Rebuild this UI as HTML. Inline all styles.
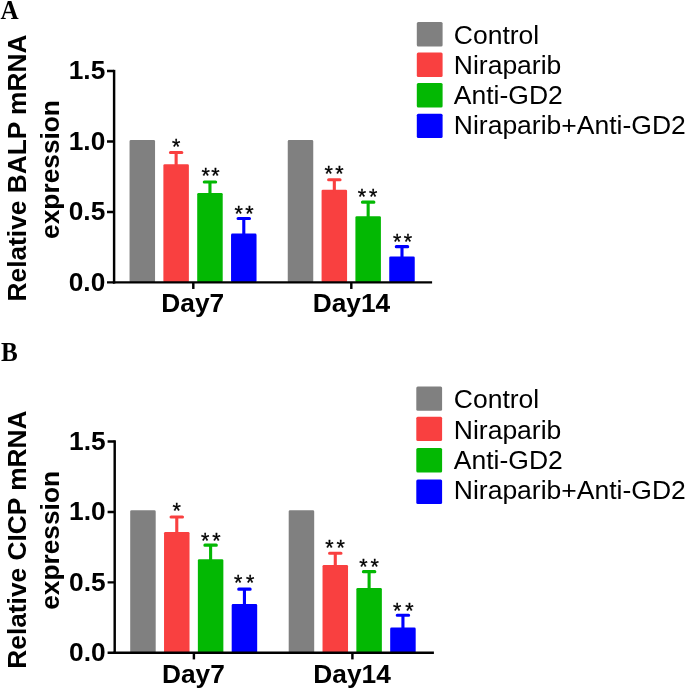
<!DOCTYPE html>
<html><head><meta charset="utf-8"><title>Figure</title>
<style>
html,body{margin:0;padding:0;background:#fff;}
svg{display:block}
.b{font-family:"Liberation Sans",Arial,sans-serif;font-weight:700;font-size:26.3px;fill:#000}
.r{font-family:"Liberation Sans",Arial,sans-serif;font-weight:400;font-size:26.5px;fill:#000}
.L{font-family:"Liberation Serif","Times New Roman",serif;font-weight:700;font-size:27px;fill:#000}
.st{font-family:"Liberation Sans",Arial,sans-serif;font-weight:400;font-size:21.5px;fill:#000;stroke:#000;stroke-width:0.3px}
</style></head><body>
<svg width="685" height="690" viewBox="0 0 685 690">
<rect width="685" height="690" fill="#fff"/>
<rect x="129.55" y="140.10" width="25.5" height="142.25" rx="1.3" fill="#808080"/>
<rect x="163.38" y="164.30" width="25.5" height="118.05" rx="1.3" fill="#F94040"/>
<path d="M176.13 165.30V152.45M170.43 152.45H181.83" stroke="#F94040" stroke-width="3.1" stroke-linecap="round" fill="none"/>
<text class="st" x="172.07" y="153.90">*</text>
<rect x="197.21" y="192.90" width="25.5" height="89.45" rx="1.3" fill="#03B803"/>
<path d="M209.96 193.90V181.95M204.26 181.95H215.66" stroke="#03B803" stroke-width="3.1" stroke-linecap="round" fill="none"/>
<text class="st" x="201.52 211.22" y="183.30">**</text>
<rect x="231.04" y="233.60" width="25.5" height="48.75" rx="1.3" fill="#0000FF"/>
<path d="M243.79 234.60V218.45M238.09 218.45H249.49" stroke="#0000FF" stroke-width="3.1" stroke-linecap="round" fill="none"/>
<text class="st" x="234.42 245.22" y="220.70">**</text>
<rect x="287.75" y="140.10" width="25.5" height="142.25" rx="1.3" fill="#808080"/>
<rect x="321.58" y="189.70" width="25.5" height="92.65" rx="1.3" fill="#F94040"/>
<path d="M334.33 190.70V179.75M328.63 179.75H340.03" stroke="#F94040" stroke-width="3.1" stroke-linecap="round" fill="none"/>
<text class="st" x="324.42 335.22" y="181.40">**</text>
<rect x="355.41" y="216.30" width="25.5" height="66.05" rx="1.3" fill="#03B803"/>
<path d="M368.16 217.30V202.15M362.46 202.15H373.86" stroke="#03B803" stroke-width="3.1" stroke-linecap="round" fill="none"/>
<text class="st" x="357.82 368.92" y="204.00">**</text>
<rect x="389.24" y="256.50" width="25.5" height="25.85" rx="1.3" fill="#0000FF"/>
<path d="M401.99 257.50V246.65M396.29 246.65H407.69" stroke="#0000FF" stroke-width="3.1" stroke-linecap="round" fill="none"/>
<text class="st" x="393.02 403.82" y="249.30">**</text>
<path d="M107.00 282.35H114.10M107.00 211.93H114.10M107.00 141.50H114.10M107.00 71.08H114.10" stroke="#000" stroke-width="2.45" fill="none"/>
<path d="M114.10 69.85V283.58" stroke="#000" stroke-width="2.45" fill="none"/>
<path d="M112.88 282.35H432.10" stroke="#000" stroke-width="2.45" fill="none"/>
<path d="M193.30 282.35V288.95" stroke="#000" stroke-width="2.45" fill="none"/>
<path d="M351.30 282.35V288.95" stroke="#000" stroke-width="2.45" fill="none"/>
<text class="b" x="105.30" y="290.75" text-anchor="end">0.0</text>
<text class="b" x="105.30" y="220.33" text-anchor="end">0.5</text>
<text class="b" x="105.30" y="149.90" text-anchor="end">1.0</text>
<text class="b" x="105.30" y="79.48" text-anchor="end">1.5</text>
<text class="b" x="192.80" y="312.45" text-anchor="middle">Day7</text>
<text class="b" x="351.50" y="312.45" text-anchor="middle">Day14</text>
<text class="b" transform="translate(26.00 168.00) rotate(-90)" text-anchor="middle">Relative BALP mRNA</text>
<text class="b" transform="translate(58.80 169.50) rotate(-90)" text-anchor="middle">expression</text>
<text class="L" transform="translate(0.5 19.0) scale(0.93 1)">A</text>
<rect x="416.80" y="22.00" width="25.8" height="24.4" rx="1.5" fill="#808080"/>
<text class="r" x="453.8" y="43.90">Control</text>
<rect x="416.80" y="52.60" width="25.8" height="24.4" rx="1.5" fill="#F94040"/>
<text class="r" x="453.8" y="74.20">Niraparib</text>
<rect x="416.80" y="83.10" width="25.8" height="24.4" rx="1.5" fill="#03B803"/>
<text class="r" x="453.8" y="104.40">Anti-GD2</text>
<rect x="416.80" y="113.70" width="25.8" height="24.4" rx="1.5" fill="#0000FF"/>
<text class="r" x="453.8" y="134.40">Niraparib+Anti-GD2</text>
<rect x="130.20" y="510.20" width="25.5" height="142.60" rx="1.3" fill="#808080"/>
<rect x="164.03" y="532.00" width="25.5" height="120.80" rx="1.3" fill="#F94040"/>
<path d="M176.78 533.00V517.05M171.08 517.05H182.48" stroke="#F94040" stroke-width="3.1" stroke-linecap="round" fill="none"/>
<text class="st" x="172.52" y="518.20">*</text>
<rect x="197.86" y="559.20" width="25.5" height="93.60" rx="1.3" fill="#03B803"/>
<path d="M210.61 560.20V545.15M204.91 545.15H216.31" stroke="#03B803" stroke-width="3.1" stroke-linecap="round" fill="none"/>
<text class="st" x="200.92 212.22" y="547.60">**</text>
<rect x="231.69" y="604.10" width="25.5" height="48.70" rx="1.3" fill="#0000FF"/>
<path d="M244.44 605.10V589.15M238.74 589.15H250.14" stroke="#0000FF" stroke-width="3.1" stroke-linecap="round" fill="none"/>
<text class="st" x="234.02 246.12" y="589.90">**</text>
<rect x="288.70" y="510.20" width="25.5" height="142.60" rx="1.3" fill="#808080"/>
<rect x="322.53" y="564.90" width="25.5" height="87.90" rx="1.3" fill="#F94040"/>
<path d="M335.28 565.90V553.25M329.58 553.25H340.98" stroke="#F94040" stroke-width="3.1" stroke-linecap="round" fill="none"/>
<text class="st" x="325.22 336.52" y="554.90">**</text>
<rect x="356.36" y="588.00" width="25.5" height="64.80" rx="1.3" fill="#03B803"/>
<path d="M369.11 589.00V571.65M363.41 571.65H374.81" stroke="#03B803" stroke-width="3.1" stroke-linecap="round" fill="none"/>
<text class="st" x="359.22 370.52" y="573.60">**</text>
<rect x="390.19" y="627.60" width="25.5" height="25.20" rx="1.3" fill="#0000FF"/>
<path d="M402.94 628.60V615.25M397.24 615.25H408.64" stroke="#0000FF" stroke-width="3.1" stroke-linecap="round" fill="none"/>
<text class="st" x="393.02 405.32" y="618.30">**</text>
<path d="M107.60 652.80H114.70M107.60 582.38H114.70M107.60 511.95H114.70M107.60 441.52H114.70" stroke="#000" stroke-width="2.45" fill="none"/>
<path d="M114.70 440.30V654.02" stroke="#000" stroke-width="2.45" fill="none"/>
<path d="M113.48 652.80H433.90" stroke="#000" stroke-width="2.45" fill="none"/>
<path d="M193.90 652.80V659.40" stroke="#000" stroke-width="2.45" fill="none"/>
<path d="M352.40 652.80V659.40" stroke="#000" stroke-width="2.45" fill="none"/>
<text class="b" x="105.60" y="661.20" text-anchor="end">0.0</text>
<text class="b" x="105.60" y="590.77" text-anchor="end">0.5</text>
<text class="b" x="105.60" y="520.35" text-anchor="end">1.0</text>
<text class="b" x="105.60" y="449.92" text-anchor="end">1.5</text>
<text class="b" x="193.40" y="682.90" text-anchor="middle">Day7</text>
<text class="b" x="352.10" y="682.90" text-anchor="middle">Day14</text>
<text class="b" transform="translate(25.90 539.60) rotate(-90)" text-anchor="middle">Relative CICP mRNA</text>
<text class="b" transform="translate(58.60 540.40) rotate(-90)" text-anchor="middle">expression</text>
<text class="L" transform="translate(0.9 360.6) scale(0.93 1)">B</text>
<rect x="416.30" y="386.40" width="25.8" height="24.4" rx="1.5" fill="#808080"/>
<text class="r" x="453.8" y="408.20">Control</text>
<rect x="416.30" y="416.70" width="25.8" height="24.4" rx="1.5" fill="#F94040"/>
<text class="r" x="453.8" y="438.60">Niraparib</text>
<rect x="416.30" y="448.10" width="25.8" height="24.4" rx="1.5" fill="#03B803"/>
<text class="r" x="453.8" y="468.90">Anti-GD2</text>
<rect x="416.30" y="479.60" width="25.8" height="24.4" rx="1.5" fill="#0000FF"/>
<text class="r" x="453.8" y="499.00">Niraparib+Anti-GD2</text>
</svg>
</body></html>
